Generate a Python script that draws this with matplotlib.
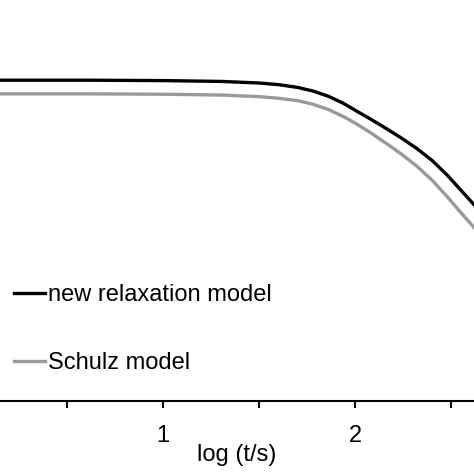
import matplotlib.pyplot as plt

# log(t/s) and normalized response
log_t = [0.15, 0.6, 1.0, 1.3, 1.5, 1.6, 1.7, 1.78, 1.86, 1.94, 2.0, 2.08, 2.16, 2.24, 2.32, 2.4, 2.48, 2.55, 2.62]
new_model = [0.800, 0.800, 0.799, 0.797, 0.793, 0.789, 0.782, 0.773, 0.760, 0.742, 0.725, 0.703, 0.680, 0.656, 0.630, 0.600, 0.563, 0.526, 0.489]
schulz_model = [0.766, 0.766, 0.765, 0.763, 0.759, 0.755, 0.749, 0.740, 0.727, 0.709, 0.693, 0.669, 0.643, 0.616, 0.586, 0.551, 0.509, 0.470, 0.432]

fig = plt.figure(figsize=(4.74, 4.74), dpi=100)
ax = fig.add_axes([0, 1 - 401 / 474, 1, 401 / 474])
ax.plot(log_t, new_model, color='black', lw=2.4, label='new relaxation model')
ax.plot(log_t, schulz_model, color='#999999', lw=2.4, label='Schulz model')
ax.set_xlim(0.15, 0.15 + 474 / 192)
ax.set_ylim(0, 1)
for s in ['top', 'left', 'right']:
    ax.spines[s].set_visible(False)
ax.spines['bottom'].set_linewidth(1.5)
ax.set_yticks([])
ax.set_xticks([0.5, 1, 1.5, 2, 2.5])
ax.set_xticklabels(['', '1', '', '2', ''])
ax.tick_params(axis='x', direction='out', length=5, width=1.5, labelsize=17, pad=12)
ax.set_xlabel('log (t/s)', fontsize=17, labelpad=-2, family='Liberation Sans')
for lb in ax.get_xticklabels():
    lb.set_family('Liberation Sans')
ax.legend(loc='upper left', bbox_to_anchor=(0.015, 0.31), frameon=False,
          prop={'family': 'Liberation Sans', 'size': 17}, handlelength=1.3,
          handletextpad=0.15, labelspacing=1.95, borderaxespad=0, borderpad=0.3)
fig.savefig('out.png', dpi=100)
